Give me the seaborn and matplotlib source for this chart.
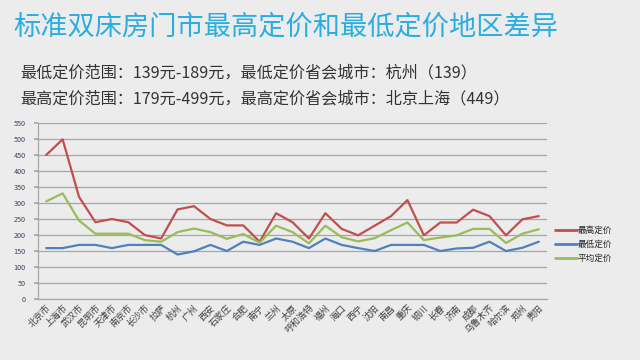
import matplotlib
matplotlib.use("Agg")
import matplotlib.pyplot as plt
import seaborn as sns
import pandas as pd
import numpy as np
from matplotlib.ticker import FixedLocator

cities = ["北京市", "上海市", "武汉市", "昆明市", "天津市", "南京市", "长沙市", "拉萨",
          "杭州", "广州", "西安", "石家庄", "合肥", "南宁", "兰州", "太原", "呼和浩特",
          "福州", "海口", "西宁", "沈阳", "南昌", "重庆", "银川", "长春", "济南", "成都",
          "乌鲁木齐", "哈尔滨", "郑州", "贵阳"]
max_price = [450, 499, 319, 240, 250, 240, 200, 189, 280, 290, 250, 230, 230, 179, 268,
             240, 189, 268, 219, 199, 229, 259, 309, 199, 239, 239, 279, 259, 199, 249, 259]
min_price = [159, 159, 169, 169, 159, 169, 169, 169, 139, 149, 169, 150, 179, 169, 189,
             179, 159, 189, 169, 159, 150, 169, 169, 169, 150, 158, 160, 179, 150, 160, 179]
avg_price = [305, 330, 245, 204, 204, 204, 184, 179, 209, 220, 209, 188, 203, 176, 229,
             209, 174, 229, 193, 180, 190, 215, 239, 184, 192, 199, 219, 219, 175, 204, 218]
series_names = ["最高定价", "最低定价", "平均定价"]
series_colors = ["#c0504d", "#4f81bd", "#9bbb59"]
title = "标准双床房门市最高定价和最低定价地区差异"
line1 = "最低定价范围：139元-189元，最低定价省会城市：杭州（139）"
line2 = "最高定价范围：179元-499元，最高定价省会城市：北京上海（449）"

sns.set_theme(style="white")
plt.rcParams['font.family'] = ['Noto Sans CJK SC', 'DejaVu Sans']
plt.rcParams['axes.unicode_minus'] = False

df = pd.DataFrame({
    "idx": list(range(len(cities))) * 3,
    "value": max_price + min_price + avg_price,
    "series": [series_names[0]] * len(cities) + [series_names[1]] * len(cities) + [series_names[2]] * len(cities),
})

fig = plt.figure(figsize=(6.4, 3.6), dpi=100)
fig.patch.set_facecolor("#ececec")

ax = fig.add_axes([38/640, 1-299/360, 509/640, 176/360])
ax.set_facecolor("none")

sns.lineplot(data=df, x="idx", y="value", hue="series", hue_order=series_names,
             palette=series_colors, linewidth=1.6, ax=ax, legend=True)

ax.set_xlim(-0.5, len(cities) - 0.5)
ax.set_ylim(0, 550)
ax.set_yticks(np.arange(0, 551, 50))
ax.yaxis.grid(True, color="#a6a6a6", linewidth=0.9)
ax.set_axisbelow(True)
ax.tick_params(axis='y', labelsize=5.2, colors="#404060", length=0, pad=6)

ax.set_xticks(range(len(cities)))
ax.set_xticklabels(cities, rotation=45, ha="right", rotation_mode="anchor",
                   fontsize=6.5, color="#404040")
ax.tick_params(axis='x', which='major', length=0, pad=3)
ax.xaxis.set_minor_locator(FixedLocator(np.arange(-0.5, len(cities), 1)))
ax.tick_params(axis='x', which='minor', length=3, color="#a6a6a6", width=0.8)
ax.tick_params(axis='y', which='major', left=True, length=3, color="#a6a6a6")
ax.set_xlabel("")
ax.set_ylabel("")
for s in ["top", "right"]:
    ax.spines[s].set_visible(False)
ax.spines["left"].set_color("#a6a6a6")
ax.spines["bottom"].set_color("#a6a6a6")
ax.spines["left"].set_linewidth(0.9)
ax.spines["bottom"].set_linewidth(0.9)

leg = ax.legend(loc="center left", bbox_to_anchor=(1.0, 0.31), frameon=False,
                fontsize=6.2, handlelength=2.6, handletextpad=0.1, labelspacing=0.6)
for h in leg.get_lines():
    h.set_linewidth(2)

fig.text(13/640, 1-27/360, title, fontsize=19.6, color="#2aaee0", va="center", ha="left")
fig.text(20/640, 1-73/360, line1, fontsize=11.6, color="#333333", va="center", ha="left")
fig.text(20/640, 1-99/360, line2, fontsize=11.6, color="#333333", va="center", ha="left")

fig.savefig("out.png", dpi=100, facecolor=fig.get_facecolor())
